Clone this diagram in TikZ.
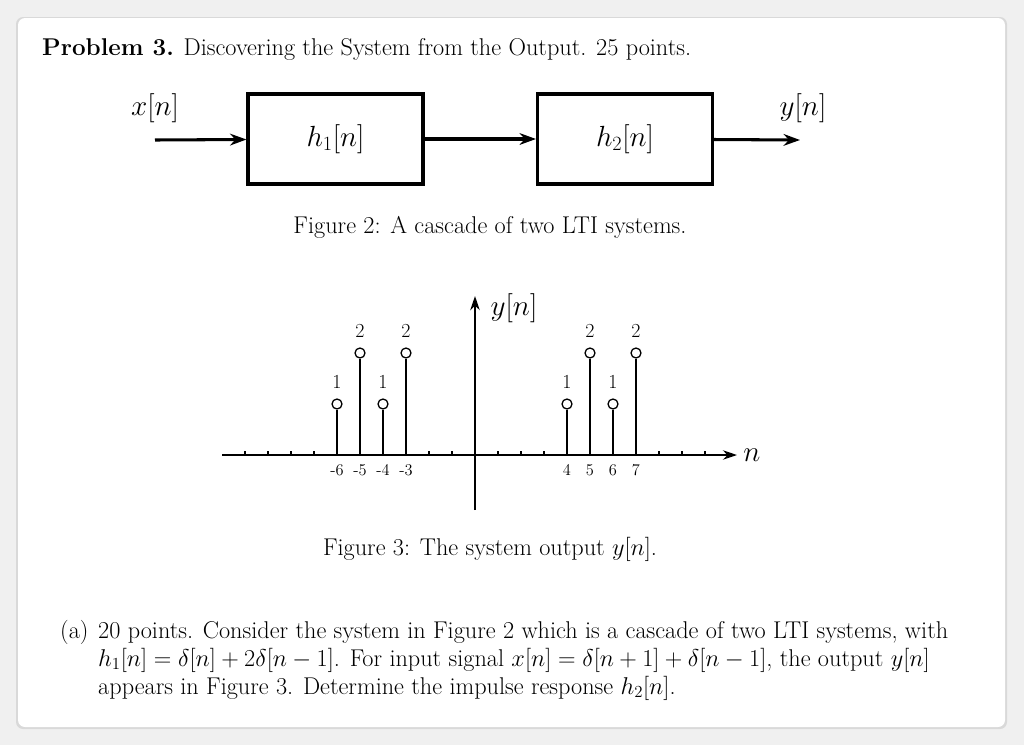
\documentclass[tikz,border=0pt]{standalone}
\usepackage{amsmath}
\usetikzlibrary{arrows.meta}
\begin{document}
\begin{tikzpicture}[x=0.03cm,y=-0.03cm,
  blk/.style={draw,line width=2.6pt,minimum width=5.25cm,minimum height=2.7cm,font=\fontsize{26}{30}\selectfont},
  sig/.style={line width=2.6pt,-{Stealth[length=14pt,width=10pt]}},
  txt/.style={font=\fontsize{20.7}{24}\selectfont,inner sep=0pt},
  stem/.style={line width=1.6pt},
  tip/.style={circle,draw,line width=1.1pt,fill=white,minimum size=0.3cm,inner sep=0pt},
  val/.style={font=\fontsize{17}{20}\selectfont,inner sep=0pt},
  tl/.style={font=\fontsize{14}{16}\selectfont,inner sep=0pt}]
\useasboundingbox (0,0) rectangle (1024,745);
\fill[gray!12] (0,0) rectangle (1024,745);
\fill[gray!30,rounded corners=6pt] (16,17) rectangle (1007,729);
\fill[white,rounded corners=6pt] (18,18) rectangle (1005,727);
\node[txt,anchor=base west] (title) at (42,55) {\textbf{Problem 3.} Discovering the System from the Output. 25 points.};
% block diagram
\node[blk] (h1) at (335.5,139) {$h_1[n]$};
\node[blk] (h2) at (625,139) {$h_2[n]$};
\coordinate (in) at (155,140);
\coordinate (out) at (800,140);
\draw[sig] (in) -- (h1);
\draw[sig] (h1) -- (h2);
\draw[sig] (h2) -- (out);
\node[font=\fontsize{26}{30}\selectfont] (xl) at (155,108) {$x[n]$};
\node[font=\fontsize{26}{30}\selectfont] (yl) at (803,108) {$y[n]$};
\node[txt] (cap2) at (490,227) {Figure 2: A cascade of two LTI systems.};
% stem plot
\coordinate (xa) at (222,455); \coordinate (xb) at (737,455);
\coordinate (ya) at (475,510); \coordinate (yb) at (475,296);
\draw[line width=2pt,-{Stealth[length=12pt,width=8pt]}] (xa) -- (xb);
\draw[line width=2pt,-{Stealth[length=12pt,width=8pt]}] (ya) -- (yb);
\node[font=\fontsize{24}{28}\selectfont] (nl) at (752,455) {$n$};
\node[font=\fontsize{24}{28}\selectfont] (yn) at (514,308) {$y[n]$};
\foreach \k in {-10,...,10} {\draw[line width=1pt] (475+23*\k,455) -- (475+23*\k,451);}
\foreach \k/\v in {-6/1,-5/2,-4/1,-3/2,4/1,5/2,6/1,7/2} {
  \pgfmathsetmacro{\yy}{\v==1 ? 404 : 353}
  \coordinate (b\k) at (475+23*\k,455);
  \node[tip] (t\k) at (475+23*\k,\yy) {};
  \draw[stem] (b\k) -- (t\k);
  \node[val] (v\k) at (475+23*\k,\yy-22) {\v};
  \node[tl] (l\k) at (475+23*\k,470) {\k};
}
\node[txt] (cap3) at (490,549) {Figure 3: The system output $y[n]$.};
\node[txt,anchor=base west] (pa) at (60,638) {(a)};
\node[txt,anchor=base west] (l1) at (98,638) {20 points. Consider the system in Figure 2 which is a cascade of two LTI systems, with};
\node[txt,anchor=base west] (l2) at (98,666) {$h_1[n]=\delta[n]+2\delta[n-1]$. For input signal $x[n]=\delta[n+1]+\delta[n-1]$, the output $y[n]$};
\node[txt,anchor=base west] (l3) at (98,694) {appears in Figure 3. Determine the impulse response $h_2[n]$.};
\end{tikzpicture}
\end{document}
